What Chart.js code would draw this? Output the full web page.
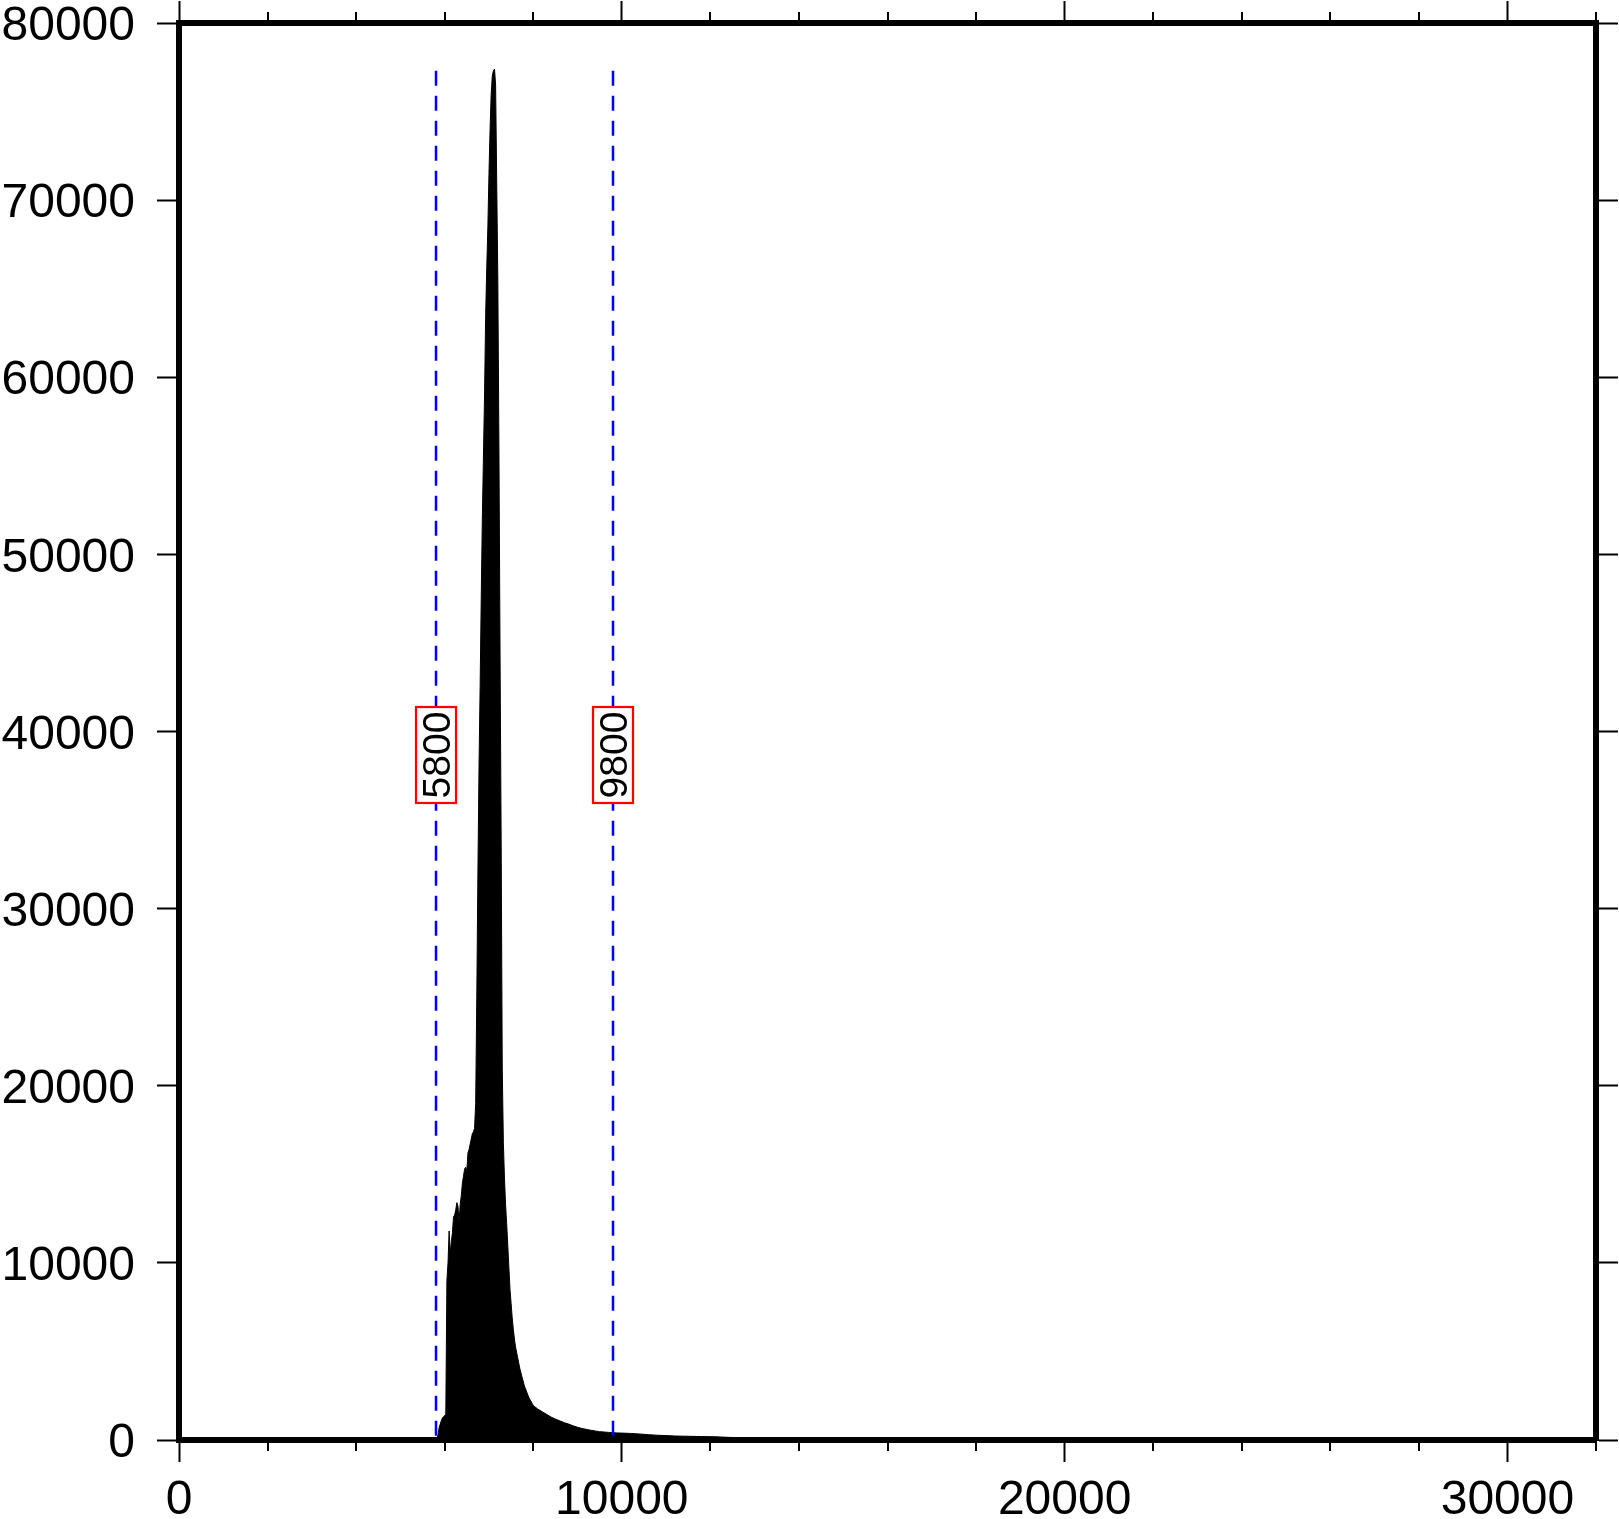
<!DOCTYPE html>
<html>
<head>
<meta charset="utf-8">
<script src="https://cdn.jsdelivr.net/npm/chart.js@4"></script>
<style>
  html, body { margin: 0; padding: 0; background: #ffffff; }
  #wrap { width: 1619px; height: 1519px; }
</style>
</head>
<body>
<div id="wrap"><canvas id="c" width="1619" height="1519"></canvas></div>
<script>
// ---- data ----
const binCenters = [5800,5825,5850,5875,5900,5925,5950,5975,6000,6025,6050,6075,6100,6125,6150,6175,6200,6225,6250,6275,6300,6325,6350,6375,6400,6425,6450,6475,6500,6525,6550,6575,6600,6625,6650,6675,6700,6725,6750,6775,6800,6825,6850,6875,6900,6925,6950,6975,7000,7025,7050,7075,7100,7125,7150,7175,7200,7225,7250,7275,7300,7325,7350,7375,7400,7425,7450,7475,7500,7525,7550,7575,7600,7700,7800,7900,8000,8100,8200,8300,8400,8500,8600,8700,8800,8900,9000,9100,9200,9300,9400,9500,9600,9700,9800,9900,10000,10200,10400,10600,10800,11000,11200,11500,11800,12100,12400,12700,13000,13300,13600];
const counts = [0,100,300,700,900,1100,1250,1320,1380,1450,9000,10000,11800,10500,11200,11700,12600,12700,13000,13400,13200,12300,13300,13800,14500,14900,15300,15400,15200,16200,16400,16700,17000,17300,17400,17600,19000,25000,32000,38000,42500,47500,52000,55500,59000,63500,66200,68500,71500,74000,76000,77000,77300,77400,76500,71000,65600,56000,44500,34000,21000,16800,14800,13300,12200,11000,9700,8500,7700,6900,6250,5700,5250,4000,3050,2400,1950,1750,1600,1450,1300,1180,1080,980,900,800,720,650,600,550,510,470,450,430,410,400,390,370,340,300,270,250,225,210,195,185,150,120,90,50,0];
const markerValues = [5800, 9800];
const markerLabels = ['5800', '9800'];
const markerTop = 77300;
const xTickLabels = ['0', '10000', '20000', '30000'];
const yTickLabels = ['0','10000','20000','30000','40000','50000','60000','70000','80000'];
const xRange = [0, 32000];
const yRange = [0, 80000];
const xStep = 2000;
const yStep = 10000;
const xMajorStep = 10000;

const FONT = '"Liberation Sans", Arial, Helvetica, sans-serif';

const points = binCenters.map((x, i) => ({ x: x, y: counts[i] }));

const isMajor = v => Math.abs(v % xMajorStep) < 1e-6;

const zeroPad = s => { s.paddingTop = 0; s.paddingBottom = 0; s.paddingLeft = 0; s.paddingRight = 0; };

const minorTicks = {
  id: 'minorTicks',
  afterDraw(chart) {
    const ctx = chart.ctx;
    const area = chart.chartArea;
    ctx.save();
    ctx.strokeStyle = '#000';
    ctx.lineWidth = 2;
    ['x', 'x2'].forEach(id => {
      const s = chart.scales[id];
      s.ticks.forEach(t => {
        if (isMajor(t.value)) return;
        const px = Math.round(s.getPixelForValue(t.value));
        ctx.beginPath();
        if (id === 'x') { ctx.moveTo(px, area.bottom); ctx.lineTo(px, area.bottom + 11); }
        else { ctx.moveTo(px, area.top); ctx.lineTo(px, area.top - 11); }
        ctx.stroke();
      });
    });
    ctx.restore();
  }
};

const markers = {
  id: 'markers',
  afterDatasetsDraw(chart) {
    const ctx = chart.ctx;
    const xs = chart.scales.x, ys = chart.scales.y;
    ctx.save();
    markerValues.forEach((v, i) => {
      const px = Math.round(xs.getPixelForValue(v));
      const yTop = ys.getPixelForValue(markerTop);
      const yBot = ys.getPixelForValue(0);
      ctx.strokeStyle = '#0000ff';
      ctx.lineWidth = 2.5;
      ctx.setLineDash([15, 10]);
      ctx.beginPath();
      ctx.moveTo(px, yTop);
      ctx.lineTo(px, yBot);
      ctx.stroke();
      ctx.setLineDash([]);
      // label box
      const yMid = Math.round(ys.getPixelForValue(markerTop / 2));
      const bw = 40, bh = 96;
      const bx = px - bw / 2, by = yMid - bh / 2;
      ctx.fillStyle = '#ffffff';
      ctx.fillRect(bx, by, bw, bh);
      ctx.strokeStyle = '#ff0000';
      ctx.lineWidth = 2.2;
      ctx.strokeRect(bx, by, bw, bh);
      ctx.save();
      ctx.translate(px, yMid);
      ctx.rotate(-Math.PI / 2);
      ctx.fillStyle = '#000';
      ctx.font = '39px ' + FONT;
      ctx.textAlign = 'center';
      ctx.textBaseline = 'alphabetic';
      ctx.fillText(markerLabels[i], 0, 14);
      ctx.restore();
    });
    ctx.restore();
  }
};

const tickFont = { family: FONT, size: 48 };
// two-line label with a tiny line height nudges the single visible line ~4px down
const yTickFont = { family: FONT, size: 48, lineHeight: 8 / 48 };

new Chart(document.getElementById('c'), {
  type: 'line',
  data: {
    datasets: [{
      data: points,
      xAxisID: 'x',
      yAxisID: 'y',
      borderColor: '#000',
      backgroundColor: '#000',
      borderWidth: 1,
      pointRadius: 0,
      tension: 0,
      fill: 'origin'
    }]
  },
  options: {
    responsive: false,
    devicePixelRatio: 1,
    animation: false,
    layout: { padding: 0 },
    plugins: { legend: { display: false }, tooltip: { enabled: false } },
    scales: {
      x: {
        type: 'linear', position: 'bottom',
        min: xRange[0], max: xRange[1],
        ticks: {
          stepSize: xStep, autoSkip: false, maxRotation: 0, minRotation: 0,
          color: '#000', font: tickFont, padding: 10,
          callback: v => (xTickLabels.includes(String(v)) ? String(v) : '')
        },
        grid: {
          drawOnChartArea: false, drawTicks: true, tickLength: 22, tickWidth: 2,
          tickColor: c => (isMajor(c.tick.value) ? '#000' : 'rgba(0,0,0,0)')
        },
        border: { display: true, color: '#000', width: 6, z: 1 },
        afterFit: s => { s.height = 79; zeroPad(s); }
      },
      x2: {
        type: 'linear', position: 'top',
        min: xRange[0], max: xRange[1],
        ticks: { stepSize: xStep, autoSkip: false, display: false },
        grid: {
          drawOnChartArea: false, drawTicks: true, tickLength: 22, tickWidth: 2,
          tickColor: c => (isMajor(c.tick.value) ? '#000' : 'rgba(0,0,0,0)')
        },
        border: { display: true, color: '#000', width: 6, z: 1 },
        afterFit: s => { s.height = 23; zeroPad(s); }
      },
      y: {
        type: 'linear', position: 'left',
        min: yRange[0], max: yRange[1],
        ticks: {
          stepSize: yStep, autoSkip: false, color: '#000', font: yTickFont, padding: 22,
          callback: v => (yTickLabels.includes(String(v)) ? ['', String(v)] : '')
        },
        grid: { drawOnChartArea: false, drawTicks: true, tickLength: 22, tickWidth: 2, tickColor: '#000' },
        border: { display: true, color: '#000', width: 6, z: 1 },
        afterFit: s => { s.width = 179; zeroPad(s); }
      },
      y2: {
        type: 'linear', position: 'right',
        min: yRange[0], max: yRange[1],
        ticks: { stepSize: yStep, autoSkip: false, display: false },
        grid: { drawOnChartArea: false, drawTicks: true, tickLength: 22, tickWidth: 2, tickColor: '#000' },
        border: { display: true, color: '#000', width: 6, z: 1 },
        afterFit: s => { s.width = 23; zeroPad(s); }
      }
    }
  },
  plugins: [minorTicks, markers]
});
</script>
</body>
</html>
